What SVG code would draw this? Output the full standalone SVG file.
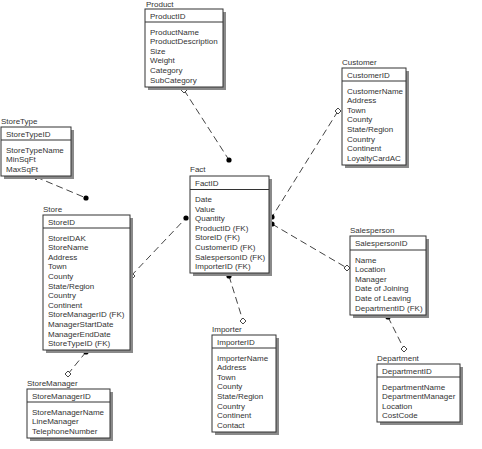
<svg xmlns="http://www.w3.org/2000/svg" width="482" height="449" viewBox="0 0 482 449">
<defs>
<style>
.sh{fill:#8a8a8a;stroke:none}
.bx{fill:#fff;stroke:#333;stroke-width:1}
.dv{stroke:#333;stroke-width:1}
text{font-family:"Liberation Sans",Arial,sans-serif;font-size:8px;fill:#333}
.cn{fill:none;stroke:#444;stroke-width:1;stroke-dasharray:7,4}
.fd{fill:#000}
.hd{fill:#fff;stroke:#333;stroke-width:0.9}
</style>
</defs>
<rect width="482" height="449" fill="#fff"/>

<g id="connectors">
<line class="cn" x1="184" y1="90" x2="229" y2="160"/>
<line class="cn" x1="36" y1="177" x2="86" y2="198"/>
<line class="cn" x1="131" y1="276" x2="186" y2="218"/>
<line class="cn" x1="338" y1="111" x2="272" y2="217"/>
<line class="cn" x1="272" y1="224" x2="347" y2="268"/>
<line class="cn" x1="229" y1="276" x2="243" y2="321"/>
<line class="cn" x1="86" y1="352" x2="68" y2="374"/>
<line class="cn" x1="388" y1="317" x2="404" y2="349"/>
<circle class="fd" cx="229" cy="160" r="2.6"/>
<circle class="fd" cx="86" cy="198" r="2.6"/>
<circle class="fd" cx="186" cy="218" r="2.6"/>
<circle class="fd" cx="272" cy="217" r="2.6"/>
<circle class="fd" cx="272" cy="224" r="2.6"/>
<circle class="fd" cx="229" cy="276" r="2.6"/>
<circle class="fd" cx="86" cy="352" r="2.6"/>
<circle class="fd" cx="388" cy="317" r="2.6"/>
<polygon class="hd" points="184,87 187,90 184,93 181,90"/>
<polygon class="hd" points="36,174 39,177 36,180 33,177"/>
<polygon class="hd" points="132,273 135,276 132,279 129,276"/>
<polygon class="hd" points="338,108 341,111 338,114 335,111"/>
<polygon class="hd" points="347,265 350,268 347,271 344,268"/>
<polygon class="hd" points="243,318 246,321 243,324 240,321"/>
<polygon class="hd" points="68,371 71,374 68,377 65,374"/>
<polygon class="hd" points="404,346 407,349 404,352 401,349"/>
</g>

<g id="Product">
<text x="146" y="6.5">Product</text>
<rect class="sh" x="148" y="12" width="78" height="78"/>
<rect class="bx" x="145" y="9" width="78" height="78"/>
<line class="dv" x1="145" y1="22" x2="223" y2="22"/>
<text x="150" y="18.5">ProductID</text>
<text x="150" y="34.5">ProductName</text>
<text x="150" y="44.1">ProductDescription</text>
<text x="150" y="53.7">Size</text>
<text x="150" y="63.3">Weight</text>
<text x="150" y="72.9">Category</text>
<text x="150" y="82.5">SubCategory</text>
</g>

<g id="Customer">
<text x="342" y="64.5">Customer</text>
<rect class="sh" x="345" y="71" width="64" height="97"/>
<rect class="bx" x="342" y="68" width="64" height="97"/>
<line class="dv" x1="342" y1="81" x2="406" y2="81"/>
<text x="347" y="77.5">CustomerID</text>
<text x="347" y="93.5">CustomerName</text>
<text x="347" y="103.1">Address</text>
<text x="347" y="112.7">Town</text>
<text x="347" y="122.3">County</text>
<text x="347" y="131.9">State/Region</text>
<text x="347" y="141.5">Country</text>
<text x="347" y="151.1">Continent</text>
<text x="347" y="160.7">LoyaltyCardAC</text>
</g>

<g id="StoreType">
<text x="1" y="123.5">StoreType</text>
<rect class="sh" x="4" y="130" width="70" height="49"/>
<rect class="bx" x="1" y="127" width="70" height="49"/>
<line class="dv" x1="1" y1="140" x2="71" y2="140"/>
<text x="6" y="136.5">StoreTypeID</text>
<text x="6" y="152.5">StoreTypeName</text>
<text x="6" y="162.1">MinSqFt</text>
<text x="6" y="171.7">MaxSqFt</text>
</g>

<g id="Store">
<text x="43" y="211.5">Store</text>
<rect class="sh" x="46" y="218" width="87" height="135"/>
<rect class="bx" x="43" y="215" width="87" height="135"/>
<line class="dv" x1="43" y1="228" x2="130" y2="228"/>
<text x="48" y="224.5">StoreID</text>
<text x="48" y="240.5">StoreIDAK</text>
<text x="48" y="250.1">StoreName</text>
<text x="48" y="259.7">Address</text>
<text x="48" y="269.3">Town</text>
<text x="48" y="278.9">County</text>
<text x="48" y="288.5">State/Region</text>
<text x="48" y="298.1">Country</text>
<text x="48" y="307.7">Continent</text>
<text x="48" y="317.3">StoreManagerID (FK)</text>
<text x="48" y="326.9">ManagerStartDate</text>
<text x="48" y="336.5">ManagerEndDate</text>
<text x="48" y="346.1">StoreTypeID (FK)</text>
</g>

<g id="Fact">
<text x="190" y="172">Fact</text>
<rect class="sh" x="193" y="179" width="79" height="97"/>
<rect class="bx" x="190" y="176" width="79" height="97"/>
<line class="dv" x1="190" y1="189.5" x2="269" y2="189.5"/>
<text x="195" y="185.5">FactID</text>
<text x="195" y="202">Date</text>
<text x="195" y="211.6">Value</text>
<text x="195" y="221.2">Quantity</text>
<text x="195" y="230.8">ProductID (FK)</text>
<text x="195" y="240.4">StoreID (FK)</text>
<text x="195" y="250">CustomerID (FK)</text>
<text x="195" y="259.6">SalespersonID (FK)</text>
<text x="195" y="269.2">ImporterID (FK)</text>
</g>

<g id="Salesperson">
<text x="350" y="232.5">Salesperson</text>
<rect class="sh" x="353" y="239" width="76" height="79"/>
<rect class="bx" x="350" y="236" width="76" height="79"/>
<line class="dv" x1="350" y1="250" x2="426" y2="250"/>
<text x="355" y="245.5">SalespersonID</text>
<text x="355" y="262.5">Name</text>
<text x="355" y="272.1">Location</text>
<text x="355" y="281.7">Manager</text>
<text x="355" y="291.3">Date of Joining</text>
<text x="355" y="300.9">Date of Leaving</text>
<text x="355" y="310.5">DepartmentID (FK)</text>
</g>

<g id="Importer">
<text x="212" y="331.5">Importer</text>
<rect class="sh" x="215" y="338" width="64" height="97"/>
<rect class="bx" x="212" y="335" width="64" height="97"/>
<line class="dv" x1="212" y1="348" x2="276" y2="348"/>
<text x="217" y="344.5">ImporterID</text>
<text x="217" y="360.5">ImporterName</text>
<text x="217" y="370.1">Address</text>
<text x="217" y="379.7">Town</text>
<text x="217" y="389.3">County</text>
<text x="217" y="398.9">State/Region</text>
<text x="217" y="408.5">Country</text>
<text x="217" y="418.1">Continent</text>
<text x="217" y="427.7">Contact</text>
</g>

<g id="Department">
<text x="377" y="360.5">Department</text>
<rect class="sh" x="380" y="367" width="83" height="58"/>
<rect class="bx" x="377" y="364" width="83" height="58"/>
<line class="dv" x1="377" y1="377" x2="460" y2="377"/>
<text x="382" y="373.5">DepartmentID</text>
<text x="382" y="389.5">DepartmentName</text>
<text x="382" y="399.1">DepartmentManager</text>
<text x="382" y="408.7">Location</text>
<text x="382" y="418.3">CostCode</text>
</g>

<g id="StoreManager">
<text x="27" y="385.5">StoreManager</text>
<rect class="sh" x="30" y="392" width="83" height="49"/>
<rect class="bx" x="27" y="389" width="83" height="49"/>
<line class="dv" x1="27" y1="402" x2="110" y2="402"/>
<text x="32" y="398.5">StoreManagerID</text>
<text x="32" y="414.5">StoreManagerName</text>
<text x="32" y="424.1">LineManager</text>
<text x="32" y="433.7">TelephoneNumber</text>
</g>
</svg>
